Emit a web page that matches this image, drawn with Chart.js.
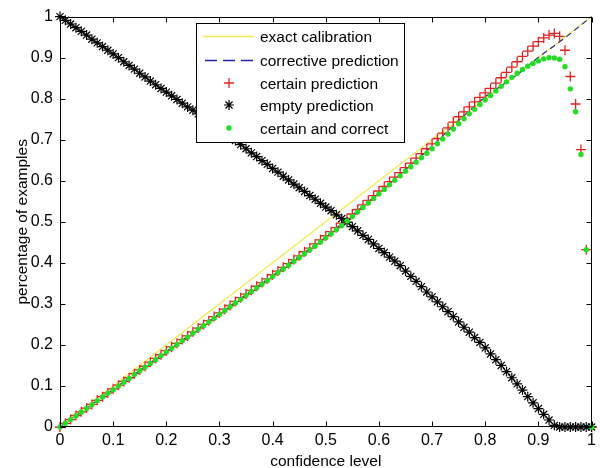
<!DOCTYPE html>
<html><head><meta charset="utf-8">
<script src="https://cdn.jsdelivr.net/npm/chart.js@4.4.1/dist/chart.umd.min.js"></script>
<style>html,body{margin:0;padding:0;background:#fff;}canvas{display:block;}</style>
</head><body>
<canvas id="c" width="600" height="468"></canvas>
<script>
// ---- data ----
const confidence = [0,0.01,0.02,0.03,0.04,0.05,0.06,0.07,0.08,0.09,
0.10,0.11,0.12,0.13,0.14,0.15,0.16,0.17,0.18,0.19,
0.20,0.21,0.22,0.23,0.24,0.25,0.26,0.27,0.28,0.29,
0.30,0.31,0.32,0.33,0.34,0.35,0.36,0.37,0.38,0.39,
0.40,0.41,0.42,0.43,0.44,0.45,0.46,0.47,0.48,0.49,
0.50,0.51,0.52,0.53,0.54,0.55,0.56,0.57,0.58,0.59,
0.60,0.61,0.62,0.63,0.64,0.65,0.66,0.67,0.68,0.69,
0.70,0.71,0.72,0.73,0.74,0.75,0.76,0.77,0.78,0.79,
0.80,0.81,0.82,0.83,0.84,0.85,0.86,0.87,0.88,0.89,
0.90,0.91,0.92,0.93,0.94,0.95,0.96,0.97,0.98,0.99,1.00];

const certainPrediction = [0,.009,.018,.028,.037,.046,.055,.065,.074,.083,
.093,.102,.111,.120,.130,.139,.148,.158,.167,.176,
.186,.195,.204,.213,.222,.232,.241,.250,.259,.269,
.278,.287,.296,.306,.315,.324,.333,.343,.352,.361,
.371,.380,.389,.398,.408,.417,.427,.436,.446,.456,
.466,.476,.486,.497,.508,.519,.530,.541,.552,.564,
.575,.586,.598,.609,.620,.632,.643,.655,.666,.678,
.690,.703,.716,.729,.743,.756,.768,.780,.792,.803,
.814,.825,.838,.851,.864,.877,.890,.903,.916,.928,
.939,.948,.955,.959,.952,.918,.854,.787,.676,.432,0];

const certainAndCorrect = [0,.009,.018,.027,.036,.045,.054,.064,.073,.082,
.091,.100,.109,.118,.128,.137,.146,.155,.164,.174,
.183,.192,.201,.210,.219,.229,.238,.247,.256,.265,
.275,.284,.293,.302,.311,.321,.330,.339,.348,.357,
.367,.376,.385,.394,.404,.413,.422,.432,.441,.451,
.461,.471,.481,.491,.502,.513,.524,.535,.546,.557,
.568,.579,.590,.601,.612,.623,.634,.645,.656,.667,
.678,.690,.702,.714,.726,.739,.751,.763,.774,.786,
.797,.808,.819,.830,.841,.852,.862,.871,.879,.886,
.892,.897,.900,.899,.896,.878,.824,.768,.664,.432,0];

const emptyPrediction = [1,.991,.982,.973,.964,.955,.945,.936,.927,.918,
.909,.900,.890,.881,.872,.862,.853,.843,.834,.825,
.816,.807,.798,.789,.780,.772,.763,.754,.745,.736,
.727,.718,.708,.698,.688,.678,.668,.659,.649,.640,
.630,.621,.611,.602,.592,.583,.574,.564,.555,.545,
.536,.527,.517,.508,.499,.488,.478,.467,.457,.446,
.435,.425,.414,.404,.393,.380,.367,.355,.342,.329,
.317,.305,.293,.281,.269,.256,.243,.231,.218,.206,
.193,.178,.164,.150,.135,.120,.105,.090,.074,.059,
.045,.031,.017,.004,0,0,0,0,0,0,0];

const correctiveX = [0,0.1,0.2,0.3,0.4,0.5,0.6,0.7,0.75,0.8,0.86,0.9,0.95,1];
const correctiveY = [0,.092,.184,.276,.369,.463,.570,.684,.747,.805,.858,.901,.948,1];

const calibrationX = [0,1];
const calibrationY = [0,1];

const tickValues = [0,0.1,0.2,0.3,0.4,0.5,0.6,0.7,0.8,0.9,1];
const tickLabels = ['0','0.1','0.2','0.3','0.4','0.5','0.6','0.7','0.8','0.9','1'];

const seriesNames = ['exact calibration','corrective prediction','certain prediction','empty prediction','certain and correct'];
const xTitle = 'confidence level';
const yTitle = 'percentage of examples';

// ---- styling ----
const FONT = 'Liberation Sans, Arial, Helvetica, sans-serif';
const C_YELLOW = 'rgb(240,234,80)';
const C_BLUE = '#22229a';
const C_RED = '#dd2222';
const C_BLACK = '#000000';
const C_GREEN = '#22dd22';

const pts = (xs, ys) => xs.map((x, i) => ({x: x, y: ys[i]}));

const boxPlugin = {
  id: 'box',
  afterDatasetsDraw(chart) {
    const ctx = chart.ctx;
    const {left, right, top, bottom} = chart.chartArea;
    const xs = chart.scales.x, ys = chart.scales.y;
    const L = Math.round(left) + 0.5, R = Math.round(right) - 0.5;
    const T = Math.round(top) + 0.5, B = Math.round(bottom) - 0.5;
    ctx.save();
    ctx.strokeStyle = '#000';
    ctx.lineWidth = 1;
    ctx.strokeRect(L, T, R - L, B - T);
    const tl = 5;
    ctx.beginPath();
    tickValues.forEach(v => {
      const px = Math.round(xs.getPixelForValue(v)) + 0.5;
      ctx.moveTo(px, B); ctx.lineTo(px, B - tl);
      ctx.moveTo(px, T); ctx.lineTo(px, T + tl);
      const py = Math.round(ys.getPixelForValue(v)) + 0.5;
      ctx.moveTo(L, py); ctx.lineTo(L + tl, py);
      ctx.moveTo(R, py); ctx.lineTo(R - tl, py);
    });
    ctx.stroke();
    ctx.restore();
  }
};

const legendPlugin = {
  id: 'customLegend',
  afterDraw(chart) {
    const ctx = chart.ctx;
    const bx = 196.5, by = 23.5, bw = 208, bh = 119;
    ctx.save();
    ctx.fillStyle = '#fff';
    ctx.fillRect(bx, by, bw, bh);
    ctx.strokeStyle = '#000';
    ctx.lineWidth = 1;
    ctx.strokeRect(bx, by, bw, bh);
    const rows = [36, 60, 83, 105, 128];
    const mx = 229, lx0 = 203, lx1 = 254, tx = 260;
    // exact calibration
    ctx.strokeStyle = C_YELLOW; ctx.lineWidth = 1.3;
    ctx.beginPath(); ctx.moveTo(lx0, rows[0] + 0.5); ctx.lineTo(lx1, rows[0] + 0.5); ctx.stroke();
    // corrective
    ctx.strokeStyle = C_BLUE; ctx.lineWidth = 1.3;
    ctx.setLineDash([12, 6]);
    ctx.beginPath(); ctx.moveTo(lx0 + 2, rows[1] + 0.5); ctx.lineTo(lx1, rows[1] + 0.5); ctx.stroke();
    ctx.setLineDash([]);
    // certain +
    const r = 5;
    ctx.strokeStyle = C_RED; ctx.lineWidth = 1.3;
    ctx.beginPath();
    ctx.moveTo(mx - r, rows[2]); ctx.lineTo(mx + r, rows[2]);
    ctx.moveTo(mx, rows[2] - r); ctx.lineTo(mx, rows[2] + r);
    ctx.stroke();
    // empty *
    const d = r * Math.SQRT1_2;
    ctx.strokeStyle = C_BLACK; ctx.lineWidth = 1.2;
    ctx.beginPath();
    ctx.moveTo(mx - r, rows[3]); ctx.lineTo(mx + r, rows[3]);
    ctx.moveTo(mx, rows[3] - r); ctx.lineTo(mx, rows[3] + r);
    ctx.moveTo(mx - d, rows[3] - d); ctx.lineTo(mx + d, rows[3] + d);
    ctx.moveTo(mx - d, rows[3] + d); ctx.lineTo(mx + d, rows[3] - d);
    ctx.stroke();
    // certain and correct dot
    ctx.fillStyle = C_GREEN;
    ctx.beginPath(); ctx.arc(mx, rows[4], 2.7, 0, Math.PI * 2); ctx.fill();
    // texts
    ctx.fillStyle = '#000';
    ctx.font = '15.5px ' + FONT;
    ctx.textAlign = 'left';
    ctx.textBaseline = 'alphabetic';
    seriesNames.forEach((n, i) => ctx.fillText(n, tx, rows[i] + 6));
    ctx.restore();
  }
};

new Chart(document.getElementById('c'), {
  type: 'scatter',
  data: {
    datasets: [
      { label: seriesNames[0], data: pts(calibrationX, calibrationY), showLine: true,
        borderColor: C_YELLOW, borderWidth: 1.3, pointRadius: 0, order: 5, clip: false },
      { label: seriesNames[1], data: pts(correctiveX, correctiveY), showLine: true,
        borderColor: C_BLUE, borderWidth: 1.2, borderDash: [6, 4], pointRadius: 0, order: 4, clip: false },
      { label: seriesNames[2], data: pts(confidence, certainPrediction), showLine: false,
        pointStyle: 'cross', pointRadius: 5, pointBorderWidth: 1.3, borderColor: C_RED, pointBorderColor: C_RED,
        order: 3, clip: false },
      { label: seriesNames[3], data: pts(confidence, emptyPrediction), showLine: false,
        pointStyle: 'star', pointRadius: 5, pointBorderWidth: 1.2, borderColor: C_BLACK, pointBorderColor: C_BLACK,
        order: 2, clip: false },
      { label: seriesNames[4], data: pts(confidence, certainAndCorrect), showLine: false,
        pointStyle: 'circle', pointRadius: 2.7, pointBorderWidth: 0, backgroundColor: C_GREEN, pointBackgroundColor: C_GREEN,
        order: 1, clip: false }
    ]
  },
  options: {
    responsive: false,
    animation: false,
    devicePixelRatio: 1,
    layout: { padding: { top: 10, right: 8, bottom: 0, left: 0 } },
    plugins: { legend: { display: false }, tooltip: { enabled: false } },
    scales: {
      x: {
        type: 'linear', min: 0, max: 1,
        afterBuildTicks: s => { s.ticks = tickValues.map(v => ({value: v})); },
        afterFit: s => { s.height = 41; },
        ticks: { autoSkip: false, maxRotation: 0, padding: 4, color: '#000',
          font: { family: FONT, size: 16 },
          callback: (v, i) => tickLabels[i] },
        grid: { display: false, drawTicks: false },
        border: { display: false },
        title: { display: true, text: xTitle, color: '#000',
          font: { family: FONT, size: 15.5, lineHeight: '13.4px' }, padding: { top: 0, bottom: 0 } }
      },
      y: {
        type: 'linear', min: 0, max: 1,
        afterBuildTicks: s => { s.ticks = tickValues.map(v => ({value: v})); },
        afterFit: s => { s.width = 60; },
        ticks: { autoSkip: false, padding: 7, color: '#000',
          font: { family: FONT, size: 16 },
          callback: (v, i) => tickLabels[i] },
        grid: { display: false, drawTicks: false },
        border: { display: false },
        title: { display: true, text: yTitle, color: '#000',
          font: { family: FONT, size: 15.5, lineHeight: '14px' }, padding: { top: 16, bottom: 0 } }
      }
    }
  },
  plugins: [boxPlugin, legendPlugin]
});
</script>
</body></html>
